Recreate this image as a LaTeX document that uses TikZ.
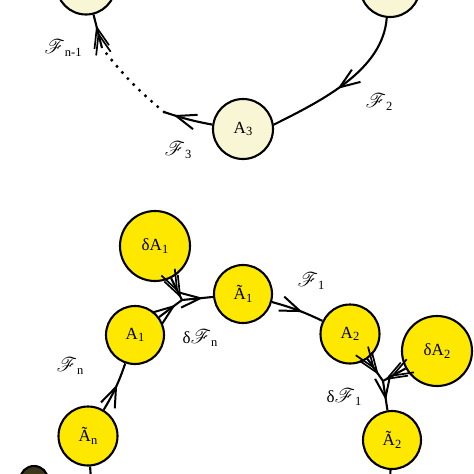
\documentclass[tikz,border=0pt]{standalone}
\usepackage{fontspec}
\setmainfont{Liberation Serif}
\usepackage{mathrsfs}
\usepackage{graphicx}
\usetikzlibrary{arrows.meta,decorations.markings}
\definecolor{pale}{RGB}{248,246,212}
\definecolor{yel}{RGB}{255,232,0}
\definecolor{darkol}{RGB}{62,56,26}
\tikzset{
  ball/.style={circle,draw=black,line width=2.1pt,minimum size=#1,inner sep=0pt,font=\fontsize{17}{19}\selectfont},
  conn/.style={line width=2.1pt},
  lab/.style={font=\fontsize{17}{19}\selectfont,inner sep=0pt},
  barb/.style={decoration={markings,mark=at position #1 with {\arrow{Straight Barb[length=20pt,width=15pt,line width=2pt]}}},postaction={decorate}},
  dbarb/.style={decoration={markings,mark=at position #1 with {\arrow{Straight Barb[length=20pt,width=15pt,line width=1.7pt,sep=-16.5pt] Straight Barb[length=20pt,width=15pt,line width=1.7pt]}}},postaction={decorate}},
}
\newcommand{\sbs}[1]{\raisebox{-0.35ex}{\fontsize{12.5}{13}\selectfont #1}}
\newcommand{\scF}[1]{\scalebox{1.15}{$\mathscr{F}$}\sbs{#1}}
\begin{document}
\begin{tikzpicture}[x=1pt,y=-1pt]
\useasboundingbox (0,0) rectangle (474,474);
\clip (0,0) rectangle (474,474);
% top ring
\node[ball=59pt,fill=pale] (TL) at (86,-15) {};
\node[ball=60pt,fill=pale] (TR) at (390,-13) {};
\node[ball=60pt,fill=pale] (A3) at (243,129) {A\sbs{3}};
\coordinate (c1) at (164,112);
\coordinate (c2) at (102,48);
\draw[conn,barb=0.55] (TR.264) .. controls +(-4,52) and +(50,-25) .. (A3.8);
\draw[conn,barb=0.8] (A3) to[bend left=4] (c1);
\draw[line width=3.4pt,line cap=round,dash pattern=on 0pt off 8.2pt] (c1) to[bend left=6] (c2);
\draw[conn,dbarb=0.68] (c2) -- (TL);
\node[lab] (lFn1) at (63,48) {\scF{n-1}};
\node[lab] (lF2) at (379,102) {\scF{2}};
\node[lab] (lF3) at (178,150) {\scF{3}};
% bottom
\node[ball=70pt,fill=yel] (dA1) at (155,246) {δA\sbs{1}};
\node[ball=58pt,fill=yel] (tA1) at (243,294) {Ã\sbs{1}};
\node[ball=58pt,fill=yel] (A1) at (135,335) {A\sbs{1}};
\node[ball=59pt,fill=yel] (tAn) at (88,436) {Ã\sbs{n}};
\node[ball=59pt,fill=yel] (A2) at (350,334) {A\sbs{2}};
\node[ball=70pt,fill=yel] (dA2) at (437,351) {δA\sbs{2}};
\node[ball=58pt,fill=yel] (tA2) at (392,440) {Ã\sbs{2}};
\node[circle,draw=black,line width=2.1pt,fill=darkol,minimum size=28pt] (dk) at (34,480) {};
\coordinate (J1) at (182,300);
\coordinate (J2) at (383,381);
\coordinate (bn) at (91,480);
\coordinate (b2) at (390,480);
\draw[conn,barb=0.56] (tAn) to[bend right=6] (A1);
\draw[conn,barb=0.72] (A1) -- (J1);
\draw[conn,dbarb=0.92] (dA1) -- (J1);
\draw[conn,barb=0.68] (J1) -- (tA1);
\draw[conn,barb=0.6] (tA1) to[bend left=5] (A2);
\draw[conn,dbarb=0.72] (A2) -- (J2);
\draw[conn,dbarb=0.92] (dA2) -- (J2);
\draw[conn,barb=0.66] (J2) -- (tA2);
\draw[conn] (tAn) -- (bn);
\draw[conn] (tA2) -- (b2);
\node[lab] (lF1) at (311,281) {\scF{1}};
\node[lab] (ldF1) at (344,397) {δ\scF{1}};
\node[lab] (ldFn) at (200,338) {δ\scF{n}};
\node[lab] (lFn) at (70,366) {\scF{n}};
\end{tikzpicture}
\end{document}
